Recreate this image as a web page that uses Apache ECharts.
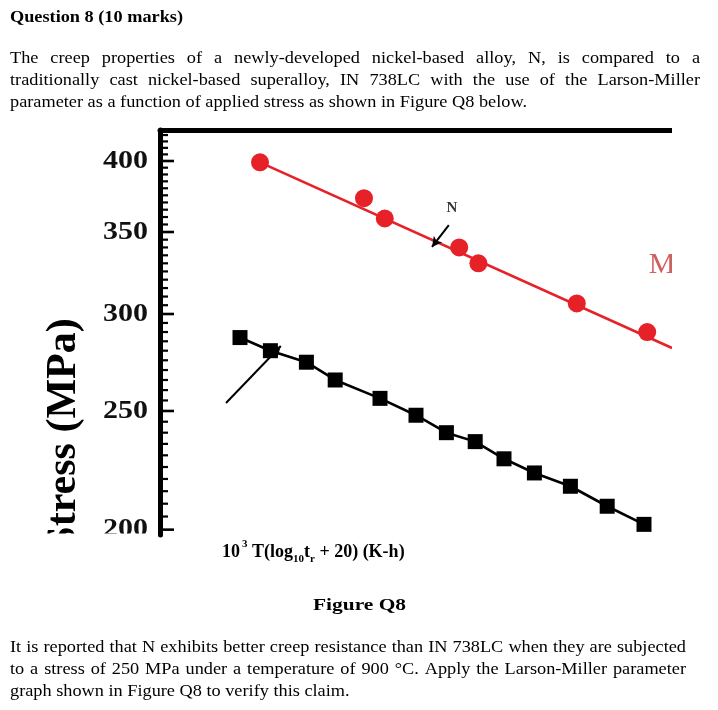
<!DOCTYPE html>
<html><head><meta charset="utf-8">
<script src="https://cdn.jsdelivr.net/npm/echarts@6/dist/echarts.min.js"></script>
<style>html,body{margin:0;padding:0;background:#fff}#c{width:718px;height:710px}</style>
</head><body><div id="c"></div>
<script>
// ---- data ----
const redX = [23.25, 24.55, 24.81, 25.74, 25.98, 27.21, 28.09];
const redY = [399, 373, 359, 340, 330, 306, 290];
const redFitX = [23.25, 28.4];
const redFitY = [399, 281.4];
const blackX = [23.00, 23.38, 23.83, 24.19, 24.75, 25.20, 25.58, 25.94, 26.30, 26.68, 27.13, 27.59, 28.05];
const blackY = [287, 280, 274, 265, 256, 248, 240, 236, 228.5, 222.5, 217, 209, 202];
const yMajorTicks = [200, 250, 300, 350, 400];
const yMinorTicks = [200,205,210,215,220,225,230,235,240,245,250,255,260,265,270,275,280,285,290,295,
  300,305,310,315,320,325,330,335,340,345,350,355,360,365,370,375,380,385,390,395,400,405,410,415,420];
const annX = [25.65, 28.11];
const annY = [366, 329];
const annText = ['N', 'M'];
const arrowN = [[25.61, 354.6], [25.40, 340.3]];
const arrowB = [[22.825, 253.8], [23.51, 282.5]];
const titleText = 'Question 8 (10 marks)';
const para1 = [
  'The creep properties of a newly-developed nickel-based alloy, N, is compared to a',
  'traditionally cast nickel-based superalloy, IN 738LC with the use of the Larson-Miller',
  'parameter as a function of applied stress as shown in Figure Q8 below.'
];
const para2 = [
  'It is reported that N exhibits better creep resistance than IN 738LC when they are subjected',
  'to a stress of 250 MPa under a temperature of 900 \u00B0C. Apply the Larson-Miller parameter',
  'graph shown in Figure Q8 to verify this claim.'
];
const figCaption = 'Figure Q8';
const yName = 'Stress (MPa)';

// ---- layout helpers ----
const SERIF = '"Liberation Serif", "Times New Roman", serif';
const ctx = document.createElement('canvas').getContext('2d');
function measure(t, font) { ctx.font = font; return ctx.measureText(t).width; }

const paraFont = '17px ' + SERIF;
const sX = 517 / measure(para1[2], paraFont);
const graphics = [];
function addLine(text, x, y, width, font, justify, scale) {
  if (!justify) {
    graphics.push({type: 'text', x: x, y: y, scaleX: scale,
      style: {text: text, font: font, fill: '#000', textVerticalAlign: 'middle'}});
    return;
  }
  const words = text.split(' ');
  const ws = words.map(w => measure(w, font) * scale);
  const tot = ws.reduce((a, b) => a + b, 0);
  const gap = (width - tot) / (words.length - 1);
  let cx = x;
  words.forEach((w, i) => {
    graphics.push({type: 'text', x: cx, y: y, scaleX: scale,
      style: {text: w, font: font, fill: '#000', textVerticalAlign: 'middle'}});
    cx += ws[i] + gap;
  });
}
const titleFont = 'bold 16px ' + SERIF;
addLine(titleText, 10, 18, 0, titleFont, false, 173 / measure(titleText, titleFont));
addLine(para1[0], 10, 59, 690, paraFont, true, sX);
addLine(para1[1], 10, 81, 690, paraFont, true, sX);
addLine(para1[2], 10, 103, 0, paraFont, false, sX);
addLine(para2[0], 10, 648, 676, paraFont, true, sX);
addLine(para2[1], 10, 670, 676, paraFont, true, sX);
addLine(para2[2], 10, 692, 0, paraFont, false, sX);
const capFont = 'bold 16px ' + SERIF;
const capW = measure(figCaption, capFont);
graphics.push({type: 'text', x: 313, y: 606, scaleX: 93 / capW,
  style: {text: figCaption, font: capFont, fill: '#000', textVerticalAlign: 'middle'}});
// x-axis title with super/subscripts
graphics.push({type: 'text', x: 222, y: 552,
  style: {
    text: '{b|10}{sup|3}{b| T(log}{sub|10}{b|t}{sub|r}{b| + 20) (K-h)}',
    fill: '#000', textVerticalAlign: 'middle',
    rich: {
      b: {font: 'bold 18px ' + SERIF, lineHeight: 26, verticalAlign: 'middle'},
      sup: {font: 'bold 11px ' + SERIF, lineHeight: 26, verticalAlign: 'top', padding: [0, 0, 0, 2]},
      sub: {font: 'bold 11px ' + SERIF, lineHeight: 26, verticalAlign: 'bottom'}
    }
  }});
// y-axis title
graphics.push({type: 'text', x: 64, y: 434, rotation: Math.PI / 2,
  style: {text: yName, font: 'bold 42px ' + SERIF, fill: '#000', textAlign: 'center', textVerticalAlign: 'middle'}});
// crop masks (the reference figure is cropped)
graphics.push({type: 'rect', zlevel: 5, z: 100, shape: {x: 672, y: 110, width: 50, height: 435}, style: {fill: '#fff'}});
graphics.push({type: 'rect', zlevel: 5, z: 100, shape: {x: 0, y: 533.5, width: 157, height: 10}, style: {fill: '#fff'}});
graphics.push({type: 'rect', zlevel: 5, z: 100, shape: {x: 0, y: 543, width: 150, height: 40}, style: {fill: '#fff'}});

const RED = '#e62128';
const XMIN = 22, XMAX = 28.4;
const tickFont = 'bold 26px ' + SERIF;
const tickScale = 45 / measure('400', tickFont);

const chart = echarts.init(document.getElementById('c'), null, {renderer: 'canvas'});
chart.setOption({
  animation: false,
  backgroundColor: '#fff',
  grid: {left: 160, right: 46, top: 130, bottom: 175},
  xAxis: {
    type: 'value', min: XMIN, max: XMAX, position: 'top',
    axisLine: {show: true, onZero: false, lineStyle: {color: '#000', width: 5}},
    axisTick: {show: false}, axisLabel: {show: false}, splitLine: {show: false}
  },
  yAxis: {
    type: 'log', logBase: 10, min: 198, max: 424,
    axisLine: {show: true, onZero: false, lineStyle: {color: '#000', width: 5}},
    axisTick: {show: false}, axisLabel: {show: false}, splitLine: {show: false}, minorTick: {show: false}
  },
  graphic: graphics,
  series: [
    {
      name: 'ticks', type: 'custom', clip: false, silent: true,
      data: yMinorTicks.map(v => [XMIN, v]),
      encode: {x: 0, y: 1},
      renderItem: function (params, api) {
        const v = api.value(1);
        const p = api.coord([XMIN, v]);
        const major = yMajorTicks.indexOf(v) >= 0;
        const children = [{
          type: 'line',
          shape: {x1: p[0], y1: p[1], x2: p[0] + (major ? 14 : 8), y2: p[1]},
          style: {stroke: '#000', lineWidth: major ? 2.6 : 2.2}
        }];
        if (major) {
          children.push({type: 'text', x: p[0] - 12, y: p[1], scaleX: tickScale,
            style: {text: String(v), font: tickFont, fill: '#111',
              textAlign: 'right', textVerticalAlign: 'middle'}});
        }
        return {type: 'group', children: children};
      }
    },
    {
      name: 'IN 738LC', type: 'line',
      data: blackX.map((x, i) => [x, blackY[i]]),
      symbol: 'rect', symbolSize: 15,
      lineStyle: {color: '#000', width: 2.6},
      itemStyle: {color: '#000'},
      markLine: {
        silent: true, symbol: ['none', 'arrow'], symbolSize: [8, 10],
        lineStyle: {color: '#000', width: 2, type: 'solid'}, label: {show: false},
        data: [
          [{coord: arrowB[0]}, {coord: arrowB[1]}],
          [{coord: arrowN[0]}, {coord: arrowN[1]}]
        ]
      }
    },
    {
      name: 'N fit', type: 'line', symbol: 'none',
      data: redFitX.map((x, i) => [x, redFitY[i]]),
      lineStyle: {color: RED, width: 2.6}
    },
    {
      name: 'N', type: 'scatter', symbol: 'circle', symbolSize: 18,
      data: redX.map((x, i) => [x, redY[i]]),
      itemStyle: {color: RED, opacity: 1}
    },
    {
      name: 'labels', type: 'scatter', symbolSize: 0, silent: true,
      data: annX.map((x, i) => ({
        value: [x, annY[i], annText[i]],
        label: i === 0
          ? {show: true, position: 'inside', formatter: p => p.value[2], color: '#000',
             fontFamily: SERIF, fontWeight: 'bold', fontSize: 15}
          : {show: true, position: 'inside', align: 'left', formatter: p => p.value[2], color: '#c23a3a',
             fontFamily: SERIF, fontWeight: 'normal', fontSize: 30}
      }))
    }
  ]
});
</script>
</body></html>
